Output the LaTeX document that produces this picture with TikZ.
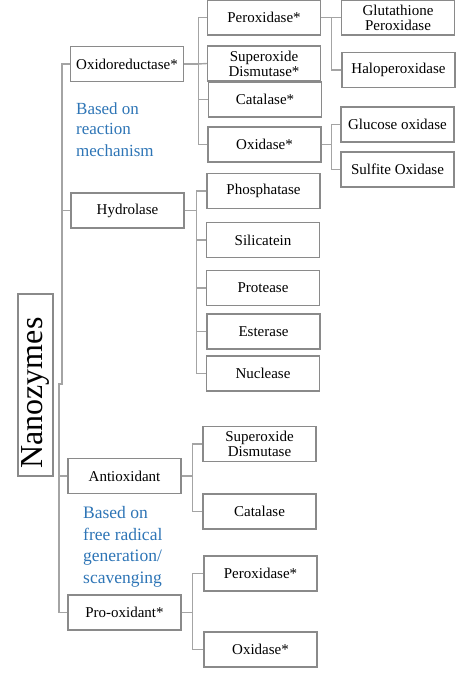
\documentclass[tikz,border=0pt]{standalone}
\usepackage{fontspec}
\setmainfont{Liberation Serif}
\usepackage{xcolor}
\usetikzlibrary{positioning,calc}
\definecolor{boxgray}{HTML}{8A8A8A}
\definecolor{linkgray}{HTML}{A4A4A4}
\definecolor{noteblue}{HTML}{2E75B6}
\tikzset{
  enzbox/.style={draw=boxgray, line width=1.4pt, fill=white, align=center, inner sep=0pt, minimum width=113pt, minimum height=35pt, font=\fontsize{15}{15}\selectfont},
  rootbox/.style={draw=boxgray, line width=1.4pt, fill=white, inner sep=0pt, rotate=90, minimum width=182pt, minimum height=35pt, font=\fontsize{32}{32}\selectfont},
  note/.style={text=noteblue, align=left, inner sep=0pt, anchor=north west},
  link/.style={draw=linkgray, line width=1.4pt}
}

\begin{document}
\begin{tikzpicture}[x=1pt, y=-1pt]
  \useasboundingbox (0,0) rectangle (474,686);
  % root
  \node[rootbox] (nano) at (35.5,385) {Nanozymes\hspace*{16pt}};

  % first level
  \node[enzbox] (oxred) at (127,64) {Oxidoreductase*};
  \node[enzbox] (hydro) at (127.5,210.5) {Hydrolase};
  \node[enzbox] (antiox) at (124.5,476) {Antioxidant};
  \node[enzbox] (proox) at (124.5,612.5) {Pro-oxidant*};

  % oxidoreductases
  \node[enzbox] (perox) at (264,17.5) {Peroxidase*};
  \node[enzbox] (sod) at (264,63.5) {Superoxide\\Dismutase*};
  \node[enzbox] (cat) at (265,99.5) {Catalase*};
  \node[enzbox] (oxid) at (264.5,144.5) {Oxidase*};
  \node[enzbox] (gluta) at (398,17.5) {Glutathione\\Peroxidase};
  \node[enzbox] (halo) at (398.5,70) {Haloperoxidase};
  \node[enzbox] (gluc) at (397.5,124.5) {Glucose oxidase};
  \node[enzbox] (sulf) at (397.5,169.5) {Sulfite Oxidase};

  % hydrolases
  \node[enzbox] (phos) at (263.5,191) {Phosphatase};
  \node[enzbox] (silic) at (263,240) {Silicatein};
  \node[enzbox] (prot) at (263,288) {Protease};
  \node[enzbox] (ester) at (263.5,331.5) {Esterase};
  \node[enzbox] (nucl) at (263,373.5) {Nuclease};

  % free radical
  \node[enzbox] (sod2) at (259.5,444) {Superoxide\\Dismutase};
  \node[enzbox] (cat2) at (259.5,511.5) {Catalase};
  \node[enzbox] (perox2) at (260.5,573.5) {Peroxidase*};
  \node[enzbox] (oxid2) at (260.5,649.5) {Oxidase*};

  % notes
  \node[note, font=\fontsize{17}{21}\selectfont] (mech) at (76,102) {Based on\\reaction\\mechanism};
  \node[note, font=\fontsize{17.5}{21.7}\selectfont] (radical) at (83,506) {Based on\\free radical\\generation/\\scavenging};

  % trunk
  \coordinate (jog) at (62,384);
  \draw[link] (oxred.west) -| (jog) -- ++(-3,0) |- (proox.west);
  \draw[link] (hydro.west) -- ++(-9,0);
  \draw[link] (antiox.west) -- ++(-9,0);

  % branches
  \draw[link] (oxred.east) -- ++(14,0) coordinate (b1);
  \draw[link] (b1) |- (perox.west);
  \draw[link] (b1) -- (sod.west);
  \draw[link] (b1) |- (cat.west);
  \draw[link] (b1) |- (oxid.west);
  \draw[link] (perox.east) -- ++(10,0) coordinate (b3) -- (gluta.west);
  \draw[link] (b3) |- (halo.west);
  \draw[link] (oxid.east) -- ++(10,0) coordinate (b4);
  \draw[link] (b4) |- (gluc.west);
  \draw[link] (b4) |- (sulf.west);

  \draw[link] (hydro.east) -- ++(12,0) coordinate (b2);
  \draw[link] (b2) |- (phos.west);
  \draw[link] (b2) |- (silic.west);
  \draw[link] (b2) |- (prot.west);
  \draw[link] (b2) |- (ester.west);
  \draw[link] (b2) |- (nucl.west);

  \draw[link] (antiox.east) -- ++(11,0) coordinate (b5);
  \draw[link] (b5) |- (sod2.west);
  \draw[link] (b5) |- (cat2.west);
  \draw[link] (proox.east) -- ++(11,0) coordinate (b6);
  \draw[link] (b6) |- (perox2.west);
  \draw[link] (b6) |- (oxid2.west);
\end{tikzpicture}
\end{document}
